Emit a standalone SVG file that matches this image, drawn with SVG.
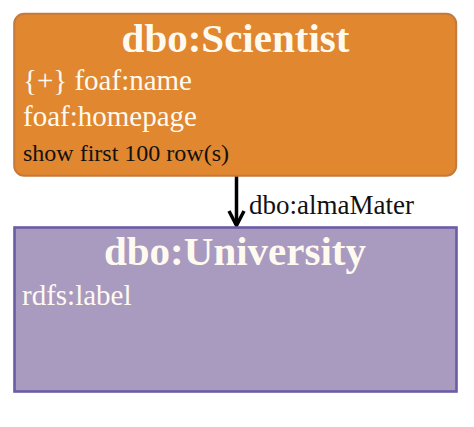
<svg xmlns="http://www.w3.org/2000/svg" width="474" height="427" viewBox="0 0 474 427">
<style>
.title{font-family:"Liberation Serif","Times New Roman",serif;font-weight:bold;font-size:41px;fill:#fffaf0;text-anchor:middle}
.attr{font-family:"Liberation Serif","Times New Roman",serif;font-size:29px;fill:#fffaf0}
.dark{font-family:"Liberation Serif","Times New Roman",serif;font-size:24px;fill:#111}
.elabel{font-family:"Liberation Serif","Times New Roman",serif;font-size:27px;fill:#111}
.conn{stroke:#000;stroke-width:3.5;fill:none}
</style>
<rect width="474" height="427" fill="#ffffff"/>
<g id="connectors">
<line class="conn" x1="236.5" y1="176" x2="236.5" y2="225"/>
<polyline class="conn" points="229,211 236.5,225.5 244,211" stroke-width="3"/>
<text class="elabel" x="249" y="214">dbo:almaMater</text>
</g>
<g id="node-scientist">
<rect x="14.2" y="13.7" width="442" height="162" rx="10" ry="10" fill="#e0872f" stroke="#c47a3c" stroke-width="2"/>
<text class="title" x="235.5" y="52">dbo:Scientist</text>
<text class="attr" x="23" y="90">{+} foaf:name</text>
<text class="attr" x="23" y="126">foaf:homepage</text>
<text class="dark" x="23" y="161">show first 100 row(s)</text>
</g>
<g id="node-university">
<rect x="14.5" y="227.5" width="442" height="164" fill="#a99bc0" stroke="#6c5ca6" stroke-width="2.6"/>
<text class="title" x="235" y="265">dbo:University</text>
<text class="attr" x="22" y="305">rdfs:label</text>
</g>
</svg>
